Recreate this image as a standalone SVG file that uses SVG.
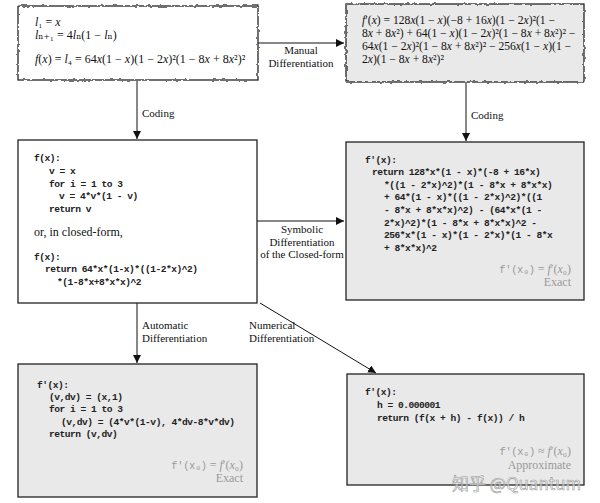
<svg xmlns="http://www.w3.org/2000/svg" width="600" height="503" viewBox="0 0 600 503">
<style>
.box{stroke:#222;stroke-width:1.3}
.w{fill:#fff}
.g{fill:#e9e9e9}
.m{font-family:"Liberation Serif","DejaVu Serif",serif;font-size:12px;fill:#111}
.m2{font-family:"Liberation Serif","DejaVu Serif",serif;font-size:11.6px;fill:#111}
.i{font-style:italic}
.c{font-family:"Liberation Mono","DejaVu Sans Mono",monospace;font-size:9.6px;letter-spacing:-0.5px;font-weight:bold;fill:#222}
.lab{font-family:"Liberation Serif","DejaVu Serif",serif;font-size:11px;fill:#111}
.gr{font-family:"Liberation Serif","DejaVu Serif",serif;font-size:12px;fill:#999}
.grc{font-family:"Liberation Mono","DejaVu Sans Mono",monospace;font-size:10.5px;letter-spacing:-0.4px}
.ln{stroke:#111;stroke-width:1;fill:none}
.wm{font-family:"Noto Sans CJK SC","Liberation Sans",sans-serif;font-size:17px;fill:#fff;fill-opacity:0.6;stroke:#999;stroke-width:0.6}
</style>
<defs>
<filter id="wavy" x="-5%" y="-10%" width="110%" height="120%">
<feTurbulence type="fractalNoise" baseFrequency="0.3" numOctaves="1" seed="3" result="n"/>
<feDisplacementMap in="SourceGraphic" in2="n" scale="3.5" xChannelSelector="R" yChannelSelector="G"/>
</filter>
<marker id="ah" viewBox="0 0 10 10" refX="10" refY="5" markerWidth="8" markerHeight="8" markerUnits="userSpaceOnUse" orient="auto">
<path d="M0,0 L10,5 L0,10 z" fill="#111"/>
</marker>
</defs>

<g id="connectors">
<line class="ln" x1="258" y1="43" x2="344" y2="43" marker-end="url(#ah)"/>
<text class="lab" x="301" y="54" text-anchor="middle">Manual</text>
<text class="lab" x="301" y="67" text-anchor="middle">Differentiation</text>
<line class="ln" x1="137" y1="81" x2="137" y2="139" marker-end="url(#ah)"/>
<text class="lab" x="142" y="117">Coding</text>
<line class="ln" x1="466" y1="83" x2="466" y2="141" marker-end="url(#ah)"/>
<text class="lab" x="471" y="119">Coding</text>
<line class="ln" x1="257" y1="221" x2="344" y2="221" marker-end="url(#ah)"/>
<text class="lab" x="302" y="233" text-anchor="middle">Symbolic</text>
<text class="lab" x="302" y="246" text-anchor="middle">Differentiation</text>
<text class="lab" x="302" y="258" text-anchor="middle">of the Closed-form</text>
<line class="ln" x1="137" y1="303" x2="137" y2="363" marker-end="url(#ah)"/>
<text class="lab" x="142" y="329">Automatic</text>
<text class="lab" x="142" y="342">Differentiation</text>
<line class="ln" x1="260" y1="303" x2="376" y2="373" marker-end="url(#ah)"/>
<text class="lab" x="249" y="329">Numerical</text>
<text class="lab" x="249" y="342">Differentiation</text>
</g>

<g id="recurrence">
<rect class="box w" x="18" y="6" width="240" height="74" filter="url(#wavy)"/>
<text class="m" x="35" y="26"><tspan class="i">l</tspan>₁ = <tspan class="i">x</tspan></text>
<text class="m" x="35" y="39"><tspan class="i">l</tspan>ₙ₊₁ = 4<tspan class="i">l</tspan>ₙ(1 − <tspan class="i">l</tspan>ₙ)</text>
<text class="m" x="35" y="63"><tspan class="i">f</tspan>(<tspan class="i">x</tspan>) = <tspan class="i">l</tspan>₄ = 64<tspan class="i">x</tspan>(1 − <tspan class="i">x</tspan>)(1 − 2<tspan class="i">x</tspan>)²(1 − 8<tspan class="i">x</tspan> + 8<tspan class="i">x</tspan>²)²</text>
</g>

<g id="manual-derivative">
<rect class="box g" x="346" y="4" width="238" height="78" filter="url(#wavy)"/>
<text class="m2" x="362" y="24"><tspan class="i">f</tspan>′(<tspan class="i">x</tspan>) = 128<tspan class="i">x</tspan>(1 − <tspan class="i">x</tspan>)(−8 + 16<tspan class="i">x</tspan>)(1 − 2<tspan class="i">x</tspan>)²(1 −</text>
<text class="m2" x="362" y="37">8<tspan class="i">x</tspan> + 8<tspan class="i">x</tspan>²) + 64(1 − <tspan class="i">x</tspan>)(1 − 2<tspan class="i">x</tspan>)²(1 − 8<tspan class="i">x</tspan> + 8<tspan class="i">x</tspan>²)² −</text>
<text class="m2" x="362" y="50">64<tspan class="i">x</tspan>(1 − 2<tspan class="i">x</tspan>)²(1 − 8<tspan class="i">x</tspan> + 8<tspan class="i">x</tspan>²)² − 256<tspan class="i">x</tspan>(1 − <tspan class="i">x</tspan>)(1 −</text>
<text class="m2" x="362" y="63">2<tspan class="i">x</tspan>)(1 − 8<tspan class="i">x</tspan> + 8<tspan class="i">x</tspan>²)²</text>
</g>

<g id="code">
<rect class="box w" x="18" y="140" width="239" height="163"/>
<text class="c" x="34" y="161">f(x):</text>
<text class="c" x="49" y="174">v = x</text>
<text class="c" x="49" y="187">for i = 1 to 3</text>
<text class="c" x="59" y="199">v = 4*v*(1 - v)</text>
<text class="c" x="49" y="212">return v</text>
<text class="m" x="34" y="236">or, in closed-form,</text>
<text class="c" x="34" y="260">f(x):</text>
<text class="c" x="45" y="272">return 64*x*(1-x)*((1-2*x)^2)</text>
<text class="c" x="57" y="285">*(1-8*x+8*x*x)^2</text>
</g>

<g id="symbolic">
<rect class="box g" x="346" y="142" width="238" height="158"/>
<text class="c" x="365" y="163">f'(x):</text>
<text class="c" x="372" y="175">return 128*x*(1 - x)*(-8 + 16*x)</text>
<text class="c" x="384" y="188">*((1 - 2*x)^2)*(1 - 8*x + 8*x*x)</text>
<text class="c" x="384" y="200">+ 64*(1 - x)*((1 - 2*x)^2)*((1</text>
<text class="c" x="384" y="213">- 8*x + 8*x*x)^2) - (64*x*(1 -</text>
<text class="c" x="384" y="226">2*x)^2)*(1 - 8*x + 8*x*x)^2 -</text>
<text class="c" x="384" y="238">256*x*(1 - x)*(1 - 2*x)*(1 - 8*x</text>
<text class="c" x="384" y="251">+ 8*x*x)^2</text>
<text class="gr" x="571" y="273" text-anchor="end"><tspan class="grc">f'(x₀)</tspan> = <tspan class="i">f</tspan>′(<tspan class="i">x</tspan>₀)</text>
<text class="gr" x="571" y="286" text-anchor="end">Exact</text>
</g>

<g id="automatic">
<rect class="box g" x="18" y="364" width="239" height="133"/>
<text class="c" x="37" y="388">f'(x):</text>
<text class="c" x="49" y="400">(v,dv) = (x,1)</text>
<text class="c" x="49" y="412">for i = 1 to 3</text>
<text class="c" x="61" y="425">(v,dv) = (4*v*(1-v), 4*dv-8*v*dv)</text>
<text class="c" x="49" y="437">return (v,dv)</text>
<text class="gr" x="243" y="469" text-anchor="end"><tspan class="grc">f'(x₀)</tspan> = <tspan class="i">f</tspan>′(<tspan class="i">x</tspan>₀)</text>
<text class="gr" x="243" y="482" text-anchor="end">Exact</text>
</g>

<g id="numerical">
<rect class="box g" x="347" y="374" width="237" height="111"/>
<text class="c" x="365" y="395">f'(x):</text>
<text class="c" x="377" y="408">h = 0.000001</text>
<text class="c" x="377" y="421">return (f(x + h) - f(x)) / h</text>
<text class="gr" x="571" y="455" text-anchor="end"><tspan class="grc">f'(x₀)</tspan> ≈ <tspan class="i">f</tspan>′(<tspan class="i">x</tspan>₀)</text>
<text class="gr" x="571" y="469" text-anchor="end">Approximate</text>
<text class="wm" x="452" y="490">知乎 @Quantum</text>
</g>
</svg>
